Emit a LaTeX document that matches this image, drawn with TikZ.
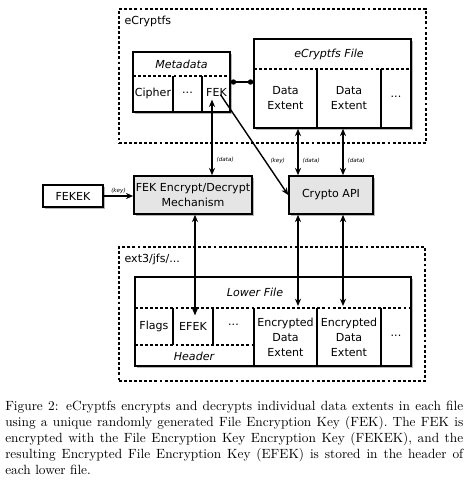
\documentclass[tikz,border=0pt]{standalone}
\usepackage{fontspec}
\newfontfamily\dvs{DejaVu Sans}
\usetikzlibrary{arrows.meta,shadows,fit,calc}
\begin{document}
\begin{tikzpicture}[x=0.75pt,y=-0.75pt,
  outer/.style={draw, line width=1.2pt, dash pattern=on 2.2pt off 1.6pt, inner sep=0pt},
  box/.style={draw, line width=1.2pt, fill=white, inner sep=0pt,
    drop shadow={shadow xshift=1.3pt, shadow yshift=-1.3pt, fill=black!40, opacity=0.7}},
  proc/.style={box, fill=black!10},
  sep/.style={line width=1pt},
  dsep/.style={line width=1pt, dash pattern=on 2.2pt off 1.6pt},
  txt/.style={font=\dvs\fontsize{8.3}{11.3}\selectfont, align=center, inner sep=1pt},
  ttl/.style={txt, font=\dvs\itshape\fontsize{8.3}{10}\selectfont},
  lbl/.style={font=\dvs\itshape\fontsize{4.2}{5}\selectfont, inner sep=0.5pt},
  arr/.style={line width=1.05pt, -{Stealth[length=5.5pt,width=4.6pt]}},
  darr/.style={line width=1.05pt, {Stealth[length=5.5pt,width=4.6pt]}-{Stealth[length=5.5pt,width=4.6pt]}},
]
\useasboundingbox (0,0) rectangle (474,482);

% ---------- eCryptfs layer ----------
\node[outer, fit={(119,9) (426,143)}] (ecfs) {};
\node[txt, anchor=west] (ecfslbl) at (123,21) {eCryptfs};

% Metadata
\node[box, fit={(133,52) (230,112)}] (meta) {};
\draw[dsep] (133,76) -- (230,76);
\draw[sep] (173,76) -- (173,112);
\draw[sep] (202,76) -- (202,112);
\node[ttl] (metat) at (181.5,64) {Metadata};
\node[txt] (cipher) at (153,93) {Cipher};
\node[txt] (mdots) at (187.5,93) {...};
\node[txt] (fek) at (216.5,92) {FEK};

% eCryptfs File
\node[box, fit={(254,39) (411,128)}] (efile) {};
\draw[dsep] (254,69) -- (411,69);
\draw[sep] (317,69) -- (317,128);
\draw[sep] (381,69) -- (381,128);
\node[ttl] (efilet) at (329,54) {eCryptfs File};
\node[txt] (de1) at (285.5,98) {Data\\Extent};
\node[txt] (de2) at (349,98) {Data\\Extent};
\node[txt] (edots) at (396,97) {...};

\draw[sep, {Circle[length=4pt]}-{Circle[length=4pt]}] (meta.east) -- (meta.east -| efile.west);

% ---------- middle ----------
\node[box, fit={(43,185) (103,207)}] (fekek) {};
\node[txt] (fekekt) at (fekek.center) {FEKEK};
\node[proc, fit={(134,176) (252,214)}] (mech) {};
\node[txt] (mecht) at (mech.center) {FEK Encrypt/Decrypt\\Mechanism};
\node[proc, fit={(289,176) (373,214)}] (crypto) {};
\node[txt] (cryptot) at (crypto.center) {Crypto API};

\coordinate (c1) at (212,0);
\coordinate (c2) at (195,0);
\coordinate (d1) at (298,0);
\coordinate (d2) at (343,0);

\draw[arr] (fekek.east) -- (fekek.east -| mech.west)
  node[lbl, midway, above=1pt] {(key)};
\draw[darr] (mech.north -| c1) -- ($(fek.south -| c1)+(0,2)$)
  node[lbl, pos=0.2, anchor=west, xshift=2.5pt] {(data)};
\draw[arr] ($(fek.south)+(4,-3)$) -- (crypto.west)
  node[lbl, pos=0.66, anchor=west, xshift=3pt] {(key)};
\draw[darr] (efile.south -| d1) -- (crypto.north -| d1)
  node[lbl, pos=0.69, anchor=west, xshift=2.5pt] {(data)};
\draw[darr] (efile.south -| d2) -- (crypto.north -| d2)
  node[lbl, pos=0.69, anchor=west, xshift=2.5pt] {(data)};

% ---------- lower layer ----------
\node[outer, fit={(119,247) (425,381)}] (lower) {};
\node[txt, anchor=west] (lowerlbl) at (123,259) {ext3/jfs/...};

\node[box, fit={(135,277) (411,366)}] (lfile) {};
\coordinate (hline) at (135,308);
\draw[dsep] (hline) -- (411,308);
\draw[dsep] (135,345) -- (254,345);
\draw[sep] (173,308) -- (173,345);
\draw[sep] (213,308) -- (213,345);
\draw[sep] (254,308) -- (254,366);
\draw[sep] (317,308) -- (317,366);
\draw[sep] (381,308) -- (381,366);
\node[ttl] (lfilet) at (255,292) {Lower File};
\node[txt] (flags) at (154,326) {Flags};
\node[txt] (efek) at (193,326) {EFEK};
\node[txt] (hdots) at (233.5,325) {...};
\node[ttl] (hdr) at (194,356) {Header};
\node[txt] (ede1) at (285.5,337) {Encrypted\\Data\\Extent};
\node[txt] (ede2) at (349,337) {Encrypted\\Data\\Extent};
\node[txt] (ldots) at (396,336) {...};

\draw[darr] (mech.south -| c2) -- ($(efek.north -| c2)+(0,-5)$);
\draw[darr] (crypto.south -| d1) -- ($(hline -| d1)+(0,-2)$);
\draw[darr] (crypto.south -| d2) -- ($(hline -| d2)+(0,-2)$);

% ---------- caption ----------
\node[anchor=north west, inner sep=0pt, text width=343.5pt, align=justify,
  font=\rmfamily\fontsize{10}{12}\selectfont] (caption) at (5,401)
{Figure 2: eCryptfs encrypts and decrypts individual data extents in each file\linebreak
using a unique randomly generated File Encryption Key (FEK). The FEK is\linebreak
encrypted with the File Encryption Key Encryption Key (FEKEK), and the\linebreak
resulting Encrypted File Encryption Key (EFEK) is stored in the header of\linebreak
each lower file.};
\end{tikzpicture}
\end{document}
